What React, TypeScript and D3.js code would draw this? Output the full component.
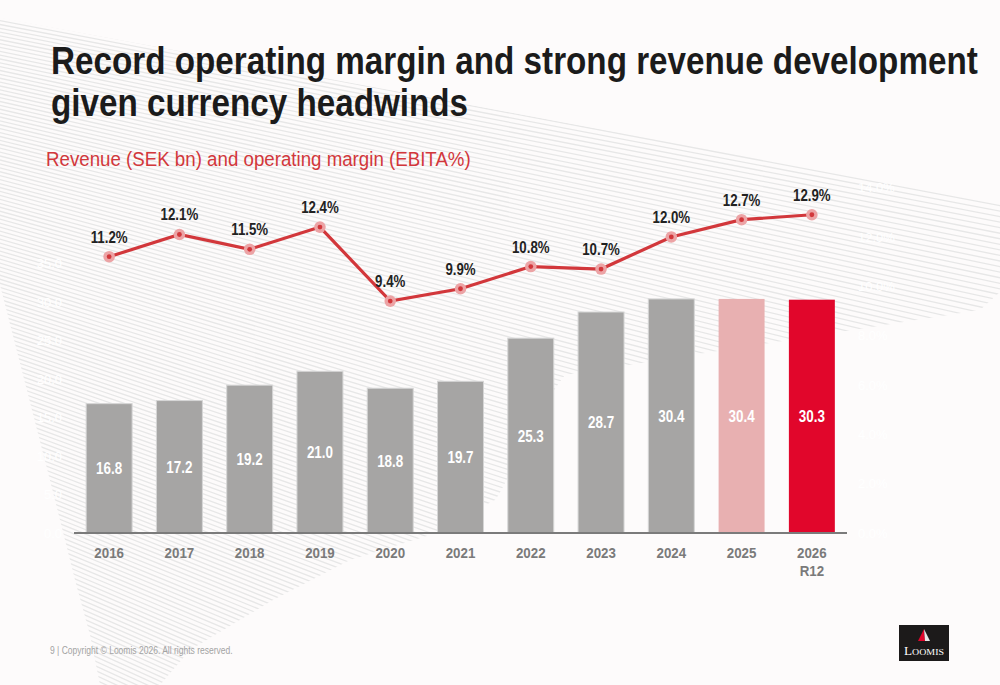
import React, { useRef, useEffect } from "react";
import * as d3 from "d3";

const years = ["2016", "2017", "2018", "2019", "2020", "2021", "2022", "2023", "2024", "2025", "2026"];
const yearSub = ["", "", "", "", "", "", "", "", "", "", "R12"];
const revenue = [16.8, 17.2, 19.2, 21.0, 18.8, 19.7, 25.3, 28.7, 30.4, 30.4, 30.3];
const ebitaMargin = [11.2, 12.1, 11.5, 12.4, 9.4, 9.9, 10.8, 10.7, 12.0, 12.7, 12.9];
const barColors = [
  "#a6a5a4", "#a6a5a4", "#a6a5a4", "#a6a5a4", "#a6a5a4", "#a6a5a4",
  "#a6a5a4", "#a6a5a4", "#a6a5a4", "#e8b0b1", "#e1062b",
];
const revenueTicks = [0, 5, 10, 15, 20, 25, 30, 35];
const marginTicks = [0, 2, 4, 6, 8, 10, 12, 14];

const FONT = "'Liberation Sans', Arial, sans-serif";
const RED = "#d2373b";

// squeeze text horizontally around its anchor to mimic a condensed face
const condense = (sel: any, k: number) =>
  sel.each(function (this: SVGTextElement) {
    const ax = +(this.getAttribute("x") || 0);
    d3.select(this).attr("transform", `translate(${ax * (1 - k)},0) scale(${k},1)`);
  });

// condense a text so that it spans a given width
const fitWidth = (sel: any, width: number) =>
  sel.each(function (this: SVGTextElement) {
    const w = this.getComputedTextLength();
    condense(d3.select(this), width / w);
  });

const App = () => {
  const ref = useRef<SVGSVGElement>(null);

  useEffect(() => {
    const svg = d3.select(ref.current);
    svg.selectAll("*").remove();

    svg.append("rect").attr("width", 1000).attr("height", 685).attr("fill", "#fdfbfb");

    // striped fan in the background
    const defs = svg.append("defs");
    defs
      .append("clipPath")
      .attr("id", "fan")
      .append("path")
      .attr(
        "d",
        "M0,18 L1000,203 L1000,292 L980,310 L565,375 C530,420 510,480 495,500 " +
          "L430,535 L350,560 L273,600 L190,650 L160,685 L100,685 L90,635 L75,580 L55,500 L0,285 Z"
      );
    const focal = [-2235, -405];
    const a0 = Math.atan(0.17);
    const a1 = Math.atan(0.47);
    const angles = d3.range(a0, a1, 0.00165);
    svg
      .append("g")
      .attr("clip-path", "url(#fan)")
      .selectAll("line")
      .data(angles)
      .enter()
      .append("line")
      .attr("x1", focal[0])
      .attr("y1", focal[1])
      .attr("x2", (a) => focal[0] + 4200 * Math.cos(a))
      .attr("y2", (a) => focal[1] + 4200 * Math.sin(a))
      .attr("stroke", "#e7e7e7")
      .attr("stroke-width", 1.3);

    // title + subtitle
    const title1 = svg
      .append("text")
      .attr("x", 51)
      .attr("y", 74)
      .attr("font-family", FONT)
      .attr("font-weight", "bold")
      .attr("font-size", 38)
      .attr("fill", "#1b1b1b")
      .text("Record operating margin and strong revenue development");
    fitWidth(title1, 927);
    const title2 = svg
      .append("text")
      .attr("x", 51)
      .attr("y", 116)
      .attr("font-family", FONT)
      .attr("font-weight", "bold")
      .attr("font-size", 38)
      .attr("fill", "#1b1b1b")
      .text("given currency headwinds");
    fitWidth(title2, 417);
    const subtitle = svg
      .append("text")
      .attr("x", 46)
      .attr("y", 166)
      .attr("font-family", FONT)
      .attr("font-size", 21)
      .attr("fill", RED)
      .text("Revenue (SEK bn) and operating margin (EBITA%)");
    fitWidth(subtitle, 425);

    const x = d3
      .scaleBand()
      .domain(years)
      .range([74, 847])
      .paddingInner(0.346)
      .paddingOuter(0.173);

    const yRev = d3.scaleLinear().domain([0, 35]).range([533, 533 - 35 * 7.7]);
    const yMargin = d3.scaleLinear().domain([0, 16]).range([533, 533 - 16 * 24.67]);

    // faint value axes
    const left = svg
      .append("g")
      .attr("transform", "translate(62,0)")
      .call(d3.axisLeft(yRev).tickValues(revenueTicks).tickFormat(d3.format(".1f")).tickSize(0).tickPadding(0));
    left.select(".domain").remove();
    left.selectAll("text").attr("fill", "#ffffff").attr("font-size", 13).attr("font-family", FONT);

    const right = svg
      .append("g")
      .attr("transform", "translate(858,0)")
      .call(
        d3
          .axisRight(yMargin)
          .tickValues(marginTicks)
          .tickFormat((d: any) => `${d.toFixed(1)}%`)
          .tickSize(0)
          .tickPadding(0)
      );
    right.select(".domain").remove();
    right.selectAll("text").attr("fill", "#ffffff").attr("font-size", 13).attr("font-family", FONT);

    // revenue bars
    const bars = svg.append("g");
    bars
      .selectAll("rect")
      .data(revenue)
      .enter()
      .append("rect")
      .attr("x", (d, i) => x(years[i]) as number)
      .attr("y", (d) => yRev(d))
      .attr("width", x.bandwidth())
      .attr("height", (d) => yRev(0) - yRev(d))
      .attr("fill", (d, i) => barColors[i])
      .attr("stroke", (d, i) => (i < 9 ? "#d6d6d6" : "none"))
      .attr("stroke-width", 1);

    const barLabels = bars
      .selectAll("text")
      .data(revenue)
      .enter()
      .append("text")
      .attr("x", (d, i) => (x(years[i]) as number) + x.bandwidth() / 2)
      .attr("y", (d) => (yRev(d) + yRev(0)) / 2 + 6)
      .attr("text-anchor", "middle")
      .attr("font-family", FONT)
      .attr("font-weight", "bold")
      .attr("font-size", 16)
      .attr("fill", "#ffffff")
      .text((d) => d3.format(".1f")(d));
    condense(barLabels, 0.84);

    // baseline + year labels
    const axis = svg
      .append("g")
      .attr("transform", `translate(0,${yRev(0)})`)
      .call(d3.axisBottom(x).tickSize(0).tickFormat(() => ""));
    axis
      .select(".domain")
      .attr("d", "M74,0H847")
      .attr("stroke", "#7b7b7b")
      .attr("stroke-width", 2);

    const yearText = svg
      .append("g")
      .selectAll("text")
      .data(years)
      .enter()
      .append("text")
      .attr("x", (d) => (x(d) as number) + x.bandwidth() / 2)
      .attr("y", 558)
      .attr("text-anchor", "middle")
      .attr("font-family", FONT)
      .attr("font-weight", "bold")
      .attr("font-size", 15.5)
      .attr("fill", "#7a7a7a")
      .text((d) => d);
    condense(yearText, 0.86);

    const subText = svg
      .append("g")
      .selectAll("text")
      .data(years.filter((d, i) => yearSub[i]))
      .enter()
      .append("text")
      .attr("x", (d) => (x(d) as number) + x.bandwidth() / 2)
      .attr("y", 576)
      .attr("text-anchor", "middle")
      .attr("font-family", FONT)
      .attr("font-weight", "bold")
      .attr("font-size", 15.5)
      .attr("fill", "#7a7a7a")
      .text((d) => yearSub[years.indexOf(d)]);
    condense(subText, 0.86);

    // margin line
    const cx = (i: number) => (x(years[i]) as number) + x.bandwidth() / 2;
    const line = d3
      .line<number>()
      .x((d, i) => cx(i))
      .y((d) => yMargin(d));

    svg
      .append("path")
      .datum(ebitaMargin)
      .attr("d", line)
      .attr("fill", "none")
      .attr("stroke", RED)
      .attr("stroke-width", 3.2);

    const pts = svg.append("g");
    pts
      .selectAll("circle.halo")
      .data(ebitaMargin)
      .enter()
      .append("circle")
      .attr("class", "halo")
      .attr("cx", (d, i) => cx(i))
      .attr("cy", (d) => yMargin(d))
      .attr("r", 5.8)
      .attr("fill", "#eca3a5");
    pts
      .selectAll("circle.dot")
      .data(ebitaMargin)
      .enter()
      .append("circle")
      .attr("class", "dot")
      .attr("cx", (d, i) => cx(i))
      .attr("cy", (d) => yMargin(d))
      .attr("r", 2.4)
      .attr("fill", RED);

    const pctLabels = pts
      .selectAll("text")
      .data(ebitaMargin)
      .enter()
      .append("text")
      .attr("x", (d, i) => cx(i))
      .attr("y", (d) => yMargin(d) - 14)
      .attr("text-anchor", "middle")
      .attr("font-family", FONT)
      .attr("font-weight", "bold")
      .attr("font-size", 17)
      .attr("fill", "#222222")
      .text((d) => `${d.toFixed(1)}%`);
    condense(pctLabels, 0.78);

    // footer
    const footer = svg
      .append("text")
      .attr("x", 50)
      .attr("y", 654)
      .attr("font-family", FONT)
      .attr("font-size", 11)
      .attr("fill", "#a3a3a3")
      .text("9  |  Copyright © Loomis 2026. All rights reserved.");
    fitWidth(footer, 183);

    // logo
    const logo = svg.append("g");
    logo.append("rect").attr("x", 899).attr("y", 625).attr("width", 50).attr("height", 36).attr("fill", "#1c1a1a");
    logo.append("path").attr("d", "M924,629 L918,641 L925,641 Z").attr("fill", "#e1062b");
    logo.append("path").attr("d", "M924,629 L925,641 L930,641 Z").attr("fill", "#e8e8e8");
    const brand = logo
      .append("text")
      .attr("x", 924)
      .attr("y", 655)
      .attr("text-anchor", "middle")
      .attr("font-family", "'Liberation Serif', 'DejaVu Serif', serif")
      .attr("font-size", 9)
      .attr("fill", "#ffffff");
    brand.append("tspan").attr("font-size", 12).text("L");
    brand.append("tspan").text("OOMIS");
    fitWidth(brand, 40);
  }, []);

  return (
    <svg
      ref={ref}
      width={1000}
      height={685}
      style={{ position: "absolute", left: 0, top: 0, display: "block" }}
    />
  );
};

export default App;
